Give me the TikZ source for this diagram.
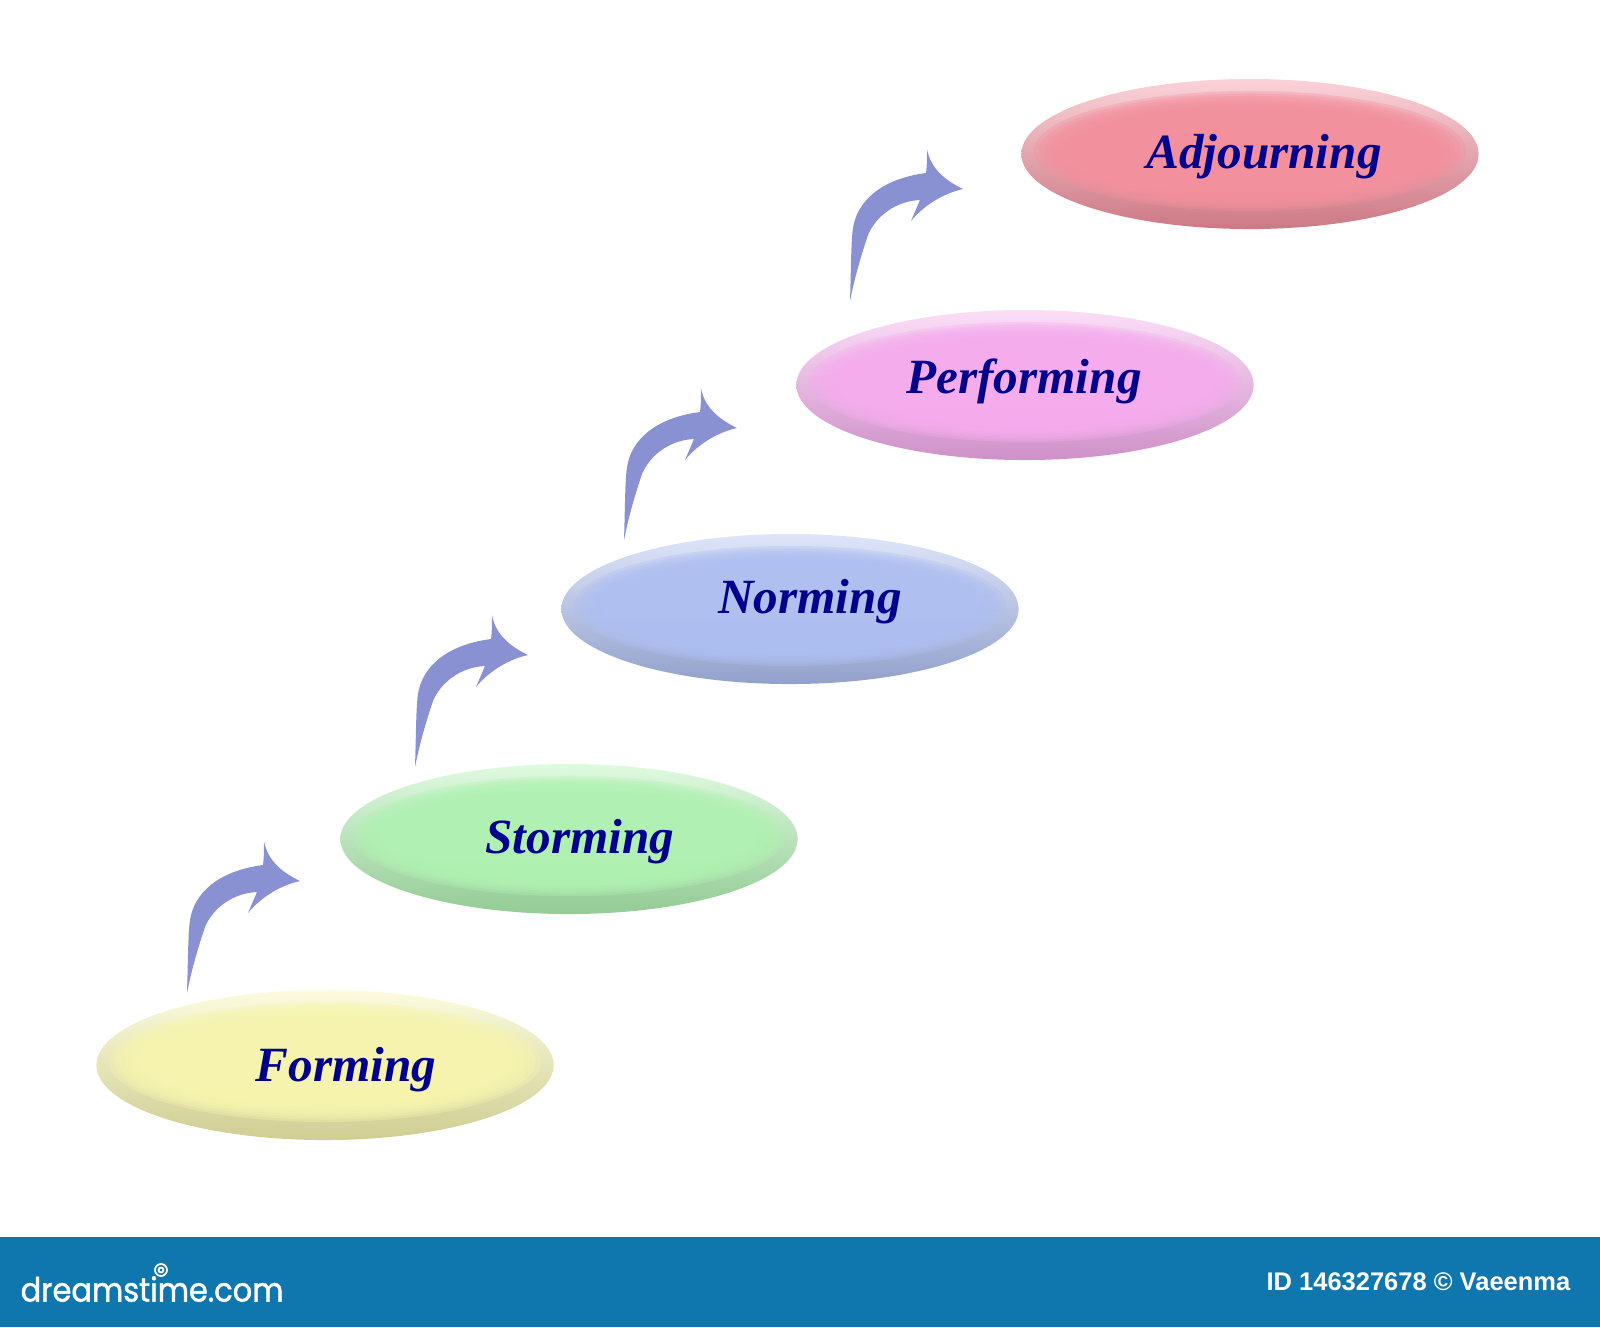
\documentclass[tikz,border=0pt]{standalone}
\usepackage{fontspec}
\setmainfont{Liberation Serif}
\newfontfamily\footfont{Liberation Sans}
\newfontfamily\logofont[FakeStretch=0.91,FakeBold=1.3]{Poppins}
\usetikzlibrary{shapes.geometric}

\definecolor{formcol}{HTML}{F7F5AE}
\definecolor{stormcol}{HTML}{B0F2B2}
\definecolor{normcol}{HTML}{AEBFF2}
\definecolor{perfcol}{HTML}{F6ACEE}
\definecolor{adjcol}{HTML}{F4909E}
\definecolor{arrowcol}{HTML}{8A91D3}
\definecolor{barcol}{HTML}{0F76AE}
\definecolor{labelcol}{HTML}{00008C}

\tikzset{
    stage/.style={ellipse, inner sep=0pt, outer sep=0pt, minimum width=4.57cm, minimum height=1.5cm,
        top color=#1!40!white, middle color=#1, bottom color=#1!84!black,
        path picture={
            \foreach \r in {0,...,6}
                \fill[#1, fill opacity=.35] ([yshift=.03cm]path picture bounding box.center)
                    ellipse ({2.16cm-.055cm*\r} and {.6cm-.025cm*\r});
        }},
    stagelabel/.style={font=\fontsize{14}{16}\selectfont\bfseries\itshape, text=labelcol, inner sep=0pt},
    bentarrow/.pic={
        \fill[arrowcol] (0,0) .. controls (1,-30) and (1,-60) .. (3,-73)
            .. controls (7,-99) and (30,-122) .. (76,-128)
            .. controls (77,-135) and (77,-145) .. (77,-152)
            .. controls (80,-135) and (92,-122) .. (113,-112)
            .. controls (95,-108) and (75,-97) .. (61,-80)
            -- (70,-101)
            .. controls (46,-100) and (26,-85) .. (18,-66)
            .. controls (11,-45) and (5,-25) .. (0,0) -- cycle;
    }
}

\begin{document}
\begin{tikzpicture}[x=0.01cm,y=-0.01cm]
    \useasboundingbox (0,0) rectangle (1600,1327);

    \node[stage=formcol] (forming) at (325,1065) {};
    \node[stage=stormcol] (storming) at (569,839) {};
    \node[stage=normcol] (norming) at (790,609) {};
    \node[stage=perfcol] (performing) at (1025,385) {};
    \node[stage=adjcol] (adjourning) at (1250,154) {};

    \node[stagelabel] (forming_t) at (346,1070) {Forming};
    \node[stagelabel] (storming_t) at (580,842) {Storming};
    \node[stagelabel] (norming_t) at (810,602) {Norming};
    \node[stagelabel] (performing_t) at (1024,381) {Performing};
    \node[stagelabel] (adjourning_t) at (1264,157) {Adjourning};

    \pic (arrow_1) at (187,993) {bentarrow};
    \pic (arrow_2) at (415,767) {bentarrow};
    \pic (arrow_3) at (624,540) {bentarrow};
    \pic (arrow_4) at (850,301) {bentarrow};

    % footer
    \fill[barcol] (0,1237) rectangle (1600,1327);
    \node[text=white, inner sep=0pt, anchor=west, font=\logofont\fontsize{9.5}{11}\selectfont] (logo) at (20,1289) {dreamstime.com};
    \draw[white, line width=.5pt] (161,1270) circle (6) (161,1270) circle (2.5);
    \node[text=white, inner sep=0pt, anchor=east, font=\footfont\fontsize{7.25}{9}\selectfont\bfseries] (credit) at (1571,1282) {ID 146327678 © Vaeenma};
\end{tikzpicture}
\end{document}
